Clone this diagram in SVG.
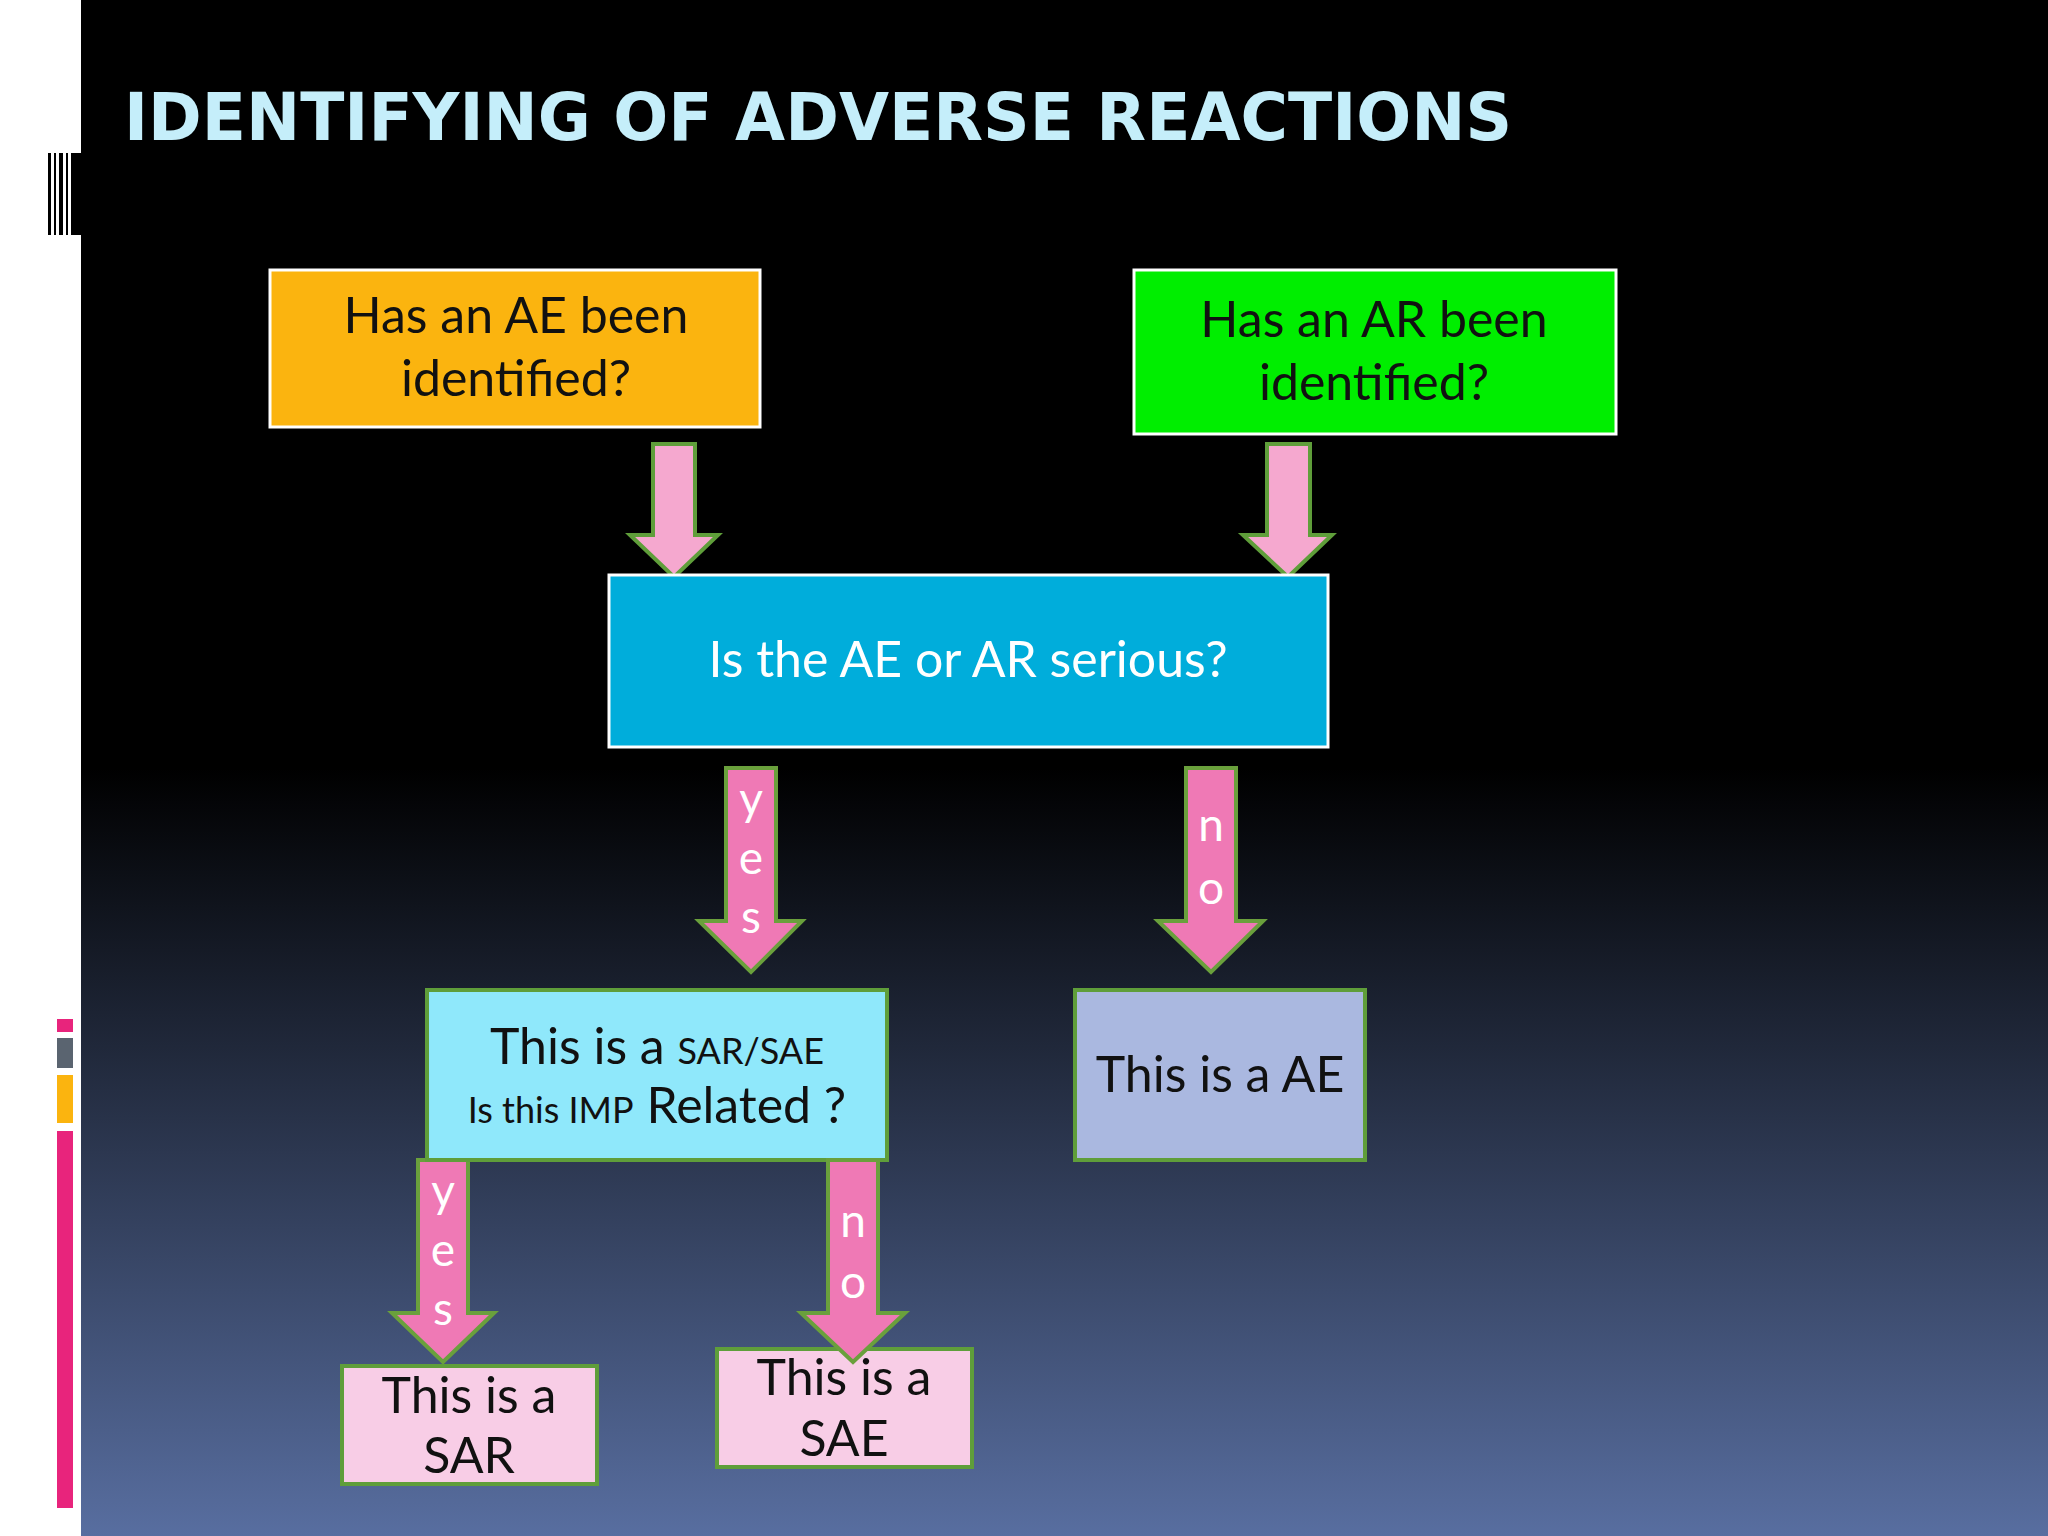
<svg xmlns="http://www.w3.org/2000/svg" width="2048" height="1536" viewBox="0 0 2048 1536">
<defs>
<linearGradient id="bg" x1="0" y1="0" x2="0" y2="1">
<stop offset="0" stop-color="#000"/><stop offset="0.5" stop-color="#000"/><stop offset="1" stop-color="#586ea0"/>
</linearGradient>
<style>
.t{font-family:Lato,"Open Sans",sans-serif;font-size:50px;fill:#111;text-anchor:middle}
.w{fill:#fff}
.l{font-family:Lato,"Open Sans",sans-serif;font-size:46px;fill:#fff;text-anchor:middle}
.b1{stroke:#fff;stroke-width:3}
.b2{stroke:#5f9e3a;stroke-width:4}
.a1{fill:#f5a8cf;stroke:#5f9e3a;stroke-width:4}
.a2{fill:#ef79b5;stroke:#6aa03c;stroke-width:4}
</style>
</defs>
<rect width="2048" height="1536" fill="#fff"/>
<rect x="81" width="1967" height="1536" fill="url(#bg)"/>
<g fill="#000">
<rect x="48" y="153" width="3" height="82"/><rect x="54" y="153" width="2" height="82"/><rect x="59" y="153" width="4" height="82"/><rect x="66" y="153" width="2" height="82"/><rect x="71" y="153" width="10" height="82"/>
</g>
<rect x="57" y="1019" width="16" height="13" fill="#e8247c"/>
<rect x="57" y="1038" width="16" height="30" fill="#5a6470"/>
<rect x="57" y="1075" width="16" height="48" fill="#fbb40f"/>
<rect x="57" y="1131" width="16" height="377" fill="#e8247c"/>
<text x="124" y="140" font-family="'Comic Sans MS','DejaVu Sans',sans-serif" font-weight="bold" font-size="66" fill="#c5eefa" textLength="1388" lengthAdjust="spacingAndGlyphs">IDENTIFYING OF ADVERSE REACTIONS</text>
<g id="connectors">
<path class="a1" d="M653 444H695V535H718L674 577L630 535H653Z"/>
<path class="a1" d="M1267 444H1310V535H1332L1288 577L1243 535H1267Z"/>
<path class="a2" d="M726 768H776V921H802L751 972L699 921H726Z"/>
<path class="a2" d="M1186 768H1236V921H1263L1211 972L1158 921H1186Z"/>
<path class="a2" d="M418 1160H468V1313H494L443 1362L392 1313H418Z"/>
<text class="l" x="751" y="815">y</text><text class="l" x="751" y="874">e</text><text class="l" x="751" y="933">s</text>
<text class="l" x="1211" y="841">n</text><text class="l" x="1211" y="904">o</text>
<text class="l" x="443" y="1207">y</text><text class="l" x="443" y="1266">e</text><text class="l" x="443" y="1325">s</text>
</g>
<g id="ae"><rect class="b1" x="270" y="270" width="490" height="157" fill="#fbb40f"/><text class="t" x="516" y="333">Has an AE been</text><text class="t" x="516" y="396">identified?</text></g>
<g id="ar"><rect class="b1" x="1134" y="270" width="482" height="164" fill="#00ee00"/><text class="t" x="1374" y="337">Has an AR been</text><text class="t" x="1374" y="400">identified?</text></g>
<g id="serious"><rect class="b1" x="609" y="575" width="719" height="172" fill="#00addb"/><text class="t w" x="968" y="677">Is the AE or AR serious?</text></g>
<g id="sarsae"><rect class="b2" x="427" y="990" width="460" height="170" fill="#8fe8fb"/><text class="t" x="657" y="1064">This is a <tspan font-size="36">SAR/SAE</tspan></text><text class="t" x="657" y="1123"><tspan font-size="36">Is this IMP</tspan> Related ?</text></g>
<g id="isae"><rect class="b2" x="1075" y="990" width="290" height="170" fill="#aab8e0"/><text class="t" x="1220" y="1092">This is a AE</text></g>
<g id="sar"><rect class="b2" x="342" y="1366" width="255" height="118" fill="#f8cde6"/><text class="t" x="469" y="1413">This is a</text><text class="t" x="469" y="1473">SAR</text></g>
<g id="sae"><rect class="b2" x="717" y="1349" width="255" height="118" fill="#f8cde6"/>
<path class="a2" d="M828 1160H878V1313H905L853 1362L801 1313H828Z"/>
<text class="l" x="853" y="1237">n</text><text class="l" x="853" y="1298">o</text>
<text class="t" x="844" y="1395">This is a</text><text class="t" x="844" y="1456">SAE</text></g>
</svg>
